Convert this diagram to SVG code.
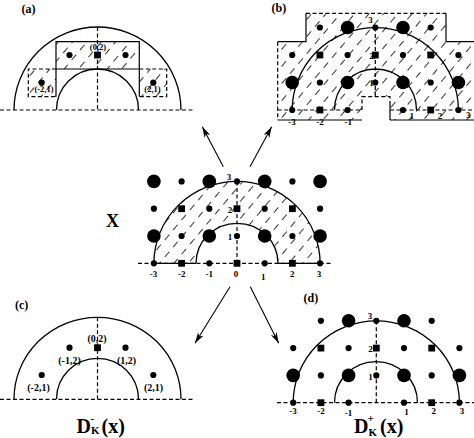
<svg xmlns="http://www.w3.org/2000/svg" width="474" height="438" viewBox="0 0 474 438">
<style>
.arc{fill:none;stroke:#000;stroke-width:1.3}
.sol{fill:none;stroke:#000;stroke-width:1.2}
.dash{fill:none;stroke:#000;stroke-width:1.2;stroke-dasharray:4 2.5}
.conn{fill:none;stroke:#000;stroke-width:1.1}
.t{font-family:"Liberation Serif",serif;font-weight:bold;fill:#000}
.s9{font-size:9px}
.s10{font-size:10px}
.s8{font-size:8.5px}
.pl{font-size:12px}
.big{font-size:20px}
.sub{font-size:11px}
</style>
<defs>
<pattern id="hatch" patternUnits="userSpaceOnUse" width="13" height="11" patternTransform="rotate(-50)">
<line x1="0" y1="5.5" x2="7" y2="5.5" stroke="#000" stroke-width="0.8"/>
</pattern>
<circle id="bd" r="6.8" fill="#000"/>
<circle id="sd" r="3.1" fill="#000"/>
<rect id="sq" x="-3.4" y="-3.4" width="6.8" height="6.8" fill="#000"/>
<marker id="ah" markerWidth="12" markerHeight="8" refX="11" refY="4" orient="auto" markerUnits="userSpaceOnUse">
<path d="M0,0.8 L11,4 L0,7.2 L3,4 Z" fill="#000"/>
</marker>
</defs>

<g id="panel-a">
<text class="t pl" x="21.5" y="12.5">(a)</text>
<path d="M56,41.7 H139.3 V69 H56 Z M28.3,69 H56 V96.7 H28.3 Z M139.3,69 H166.7 V96.7 H139.3 Z" fill="url(#hatch)"/>
<path class="arc" d="M14,110 A83.5,83 0 0 1 181,110"/>
<path class="arc" d="M56.5,110 A41,41 0 0 1 138.5,110"/>
<line class="dash" x1="0" y1="110" x2="195" y2="110"/>
<line class="dash" x1="97.5" y1="27" x2="97.5" y2="110"/>
<path class="sol" d="M56,69 V41.7 H139.3 V69 M56,69 H139.3 M56,69 V96.7 M139.3,69 V96.7"/>
<path class="dash" d="M56,69 H28.3 V96.7 H56 M139.3,69 H166.7 V96.7 H139.3"/>
<use href="#sd" x="69.5" y="55"/>
<use href="#sq" x="97.5" y="55"/>
<use href="#sd" x="125.5" y="55"/>
<use href="#sd" x="41.7" y="82.7"/>
<use href="#sd" x="153.3" y="82.7"/>
<text class="t s8" x="98" y="50" text-anchor="middle">(0,2)</text>
<text class="t s8" x="44" y="92" text-anchor="middle">(-2,1)</text>
<text class="t s8" x="152.5" y="92" text-anchor="middle">(2,1)</text>
</g>

<g id="panel-b">
<text class="t pl" x="271.5" y="11.5">(b)</text>
<path d="M277.7,41.7 H306 V13.3 H446 V41.7 H474 V120 H390 V96.7 H362 V120 H277.7 Z" fill="url(#hatch)"/>
<line class="dash" x1="306" y1="13.3" x2="446" y2="13.3"/>
<path class="sol" d="M306,13.3 V41.7 H277.7 M446,13.3 V41.7 H474"/>
<line class="dash" x1="277.7" y1="41.7" x2="277.7" y2="120"/>
<path class="sol" d="M277.7,120 H362 M390,120 H474 M390,104 V120"/>
<path class="dash" d="M362,110 V96.7 H390 V104"/>
<line class="dash" x1="277.7" y1="110" x2="362" y2="110"/>
<line class="dash" x1="390" y1="110" x2="474" y2="110"/>
<line class="dash" x1="375.3" y1="27.5" x2="375.3" y2="96.7"/>
<path class="arc" d="M292.2,110 A83.1,82.5 0 0 1 458.4,110"/>
<path class="arc" d="M334.5,110 A41,41 0 0 1 416.5,110"/>
<use href="#sd" x="319.9" y="27.5"/><use href="#bd" x="347.6" y="27.5"/><use href="#sd" x="375.3" y="27.5"/><use href="#bd" x="403" y="27.5"/><use href="#sd" x="430.7" y="27.5"/>
<use href="#sd" x="292.2" y="55"/><use href="#sq" x="319.9" y="55"/><use href="#sd" x="347.6" y="55"/><use href="#sq" x="375.3" y="55"/><use href="#sd" x="403" y="55"/><use href="#sq" x="430.7" y="55"/><use href="#sd" x="458.4" y="55"/>
<use href="#bd" x="292.2" y="82.5"/><use href="#sd" x="319.9" y="82.5"/><use href="#bd" x="347.6" y="82.5"/><use href="#sd" x="375.3" y="82.5"/><use href="#bd" x="403" y="82.5"/><use href="#sd" x="430.7" y="82.5"/><use href="#bd" x="458.4" y="82.5"/>
<use href="#sd" x="292.2" y="110"/><use href="#sq" x="319.9" y="110"/><use href="#sd" x="347.6" y="110"/><use href="#sd" x="403" y="110"/><use href="#sq" x="430.7" y="110"/><use href="#sd" x="458.4" y="110"/>
<text class="t s9" x="370.5" y="23" text-anchor="middle">3</text>
<text class="t s9" x="371.5" y="58.5" text-anchor="middle">2</text>
<text class="t s9" x="371.5" y="86" text-anchor="middle">1</text>
<text class="t s9" x="292" y="124.5" text-anchor="middle">-3</text>
<text class="t s9" x="320" y="124.5" text-anchor="middle">-2</text>
<text class="t s9" x="348.3" y="124.5" text-anchor="middle">-1</text>
<text class="t s9" x="411.7" y="119" text-anchor="middle">1</text>
<text class="t s9" x="440" y="119" text-anchor="middle">2</text>
<text class="t s9" x="468.3" y="118" text-anchor="middle">3</text>
</g>

<g id="panel-x">
<text class="t" font-size="18" x="106" y="227">X</text>
<path d="M153.9,263.3 A83.1,81.9 0 0 1 320.1,263.3 L278,263.3 A41,40 0 0 0 196,263.3 Z" fill="url(#hatch)"/>
<line class="dash" x1="138" y1="263.3" x2="333" y2="263.3"/>
<path class="sol" d="M153.9,263.3 H196 M278,263.3 H320.1"/>
<line class="dash" x1="237" y1="181.4" x2="237" y2="263.3"/>
<path class="arc" d="M153.9,263.3 A83.1,81.9 0 0 1 320.1,263.3"/>
<path class="arc" d="M196,263.3 A41,40 0 0 1 278,263.3"/>
<use href="#bd" x="153.9" y="181.4"/><use href="#sd" x="181.6" y="181.4"/><use href="#bd" x="209.3" y="181.4"/><use href="#sd" x="237" y="181.4"/><use href="#bd" x="264.7" y="181.4"/><use href="#sd" x="292.4" y="181.4"/><use href="#bd" x="320.1" y="181.4"/>
<use href="#sd" x="153.9" y="208.7"/><use href="#sq" x="181.6" y="208.7"/><use href="#sd" x="209.3" y="208.7"/><use href="#sq" x="237" y="208.7"/><use href="#sd" x="264.7" y="208.7"/><use href="#sq" x="292.4" y="208.7"/><use href="#sd" x="320.1" y="208.7"/>
<use href="#bd" x="153.9" y="236"/><use href="#sd" x="181.6" y="236"/><use href="#bd" x="209.3" y="236"/><use href="#sd" x="237" y="236"/><use href="#bd" x="264.7" y="236"/><use href="#sd" x="292.4" y="236"/><use href="#bd" x="320.1" y="236"/>
<use href="#sd" x="153.9" y="263.3"/><use href="#sq" x="181.6" y="263.3"/><use href="#sd" x="209.3" y="263.3"/><use href="#sq" x="237" y="263.3"/><use href="#sd" x="264.7" y="263.3"/><use href="#sq" x="292.4" y="263.3"/><use href="#sd" x="320.1" y="263.3"/>
<text class="t s9" x="229" y="180" text-anchor="middle">3</text>
<text class="t s9" x="230" y="213" text-anchor="middle">2</text>
<text class="t s9" x="230" y="240" text-anchor="middle">1</text>
<text class="t s9" x="153.5" y="277" text-anchor="middle">-3</text>
<text class="t s9" x="181.7" y="277" text-anchor="middle">-2</text>
<text class="t s9" x="209.3" y="277" text-anchor="middle">-1</text>
<text class="t s9" x="236" y="277" text-anchor="middle">0</text>
<text class="t s9" x="263.3" y="280" text-anchor="middle">1</text>
<text class="t s9" x="292.3" y="277" text-anchor="middle">2</text>
<text class="t s9" x="319" y="277" text-anchor="middle">3</text>
</g>

<g id="panel-c">
<text class="t pl" x="15" y="309">(c)</text>
<path class="arc" d="M14,399.3 A83.5,82 0 0 1 181,399.3"/>
<path class="arc" d="M56.5,399.3 A41,41 0 0 1 138.5,399.3"/>
<line class="dash" x1="0" y1="399.3" x2="195" y2="399.3"/>
<line class="dash" x1="97.5" y1="317.3" x2="97.5" y2="399.3"/>
<use href="#sq" x="97.5" y="347.7"/>
<use href="#sd" x="69.5" y="347.7"/>
<use href="#sd" x="125.5" y="347.7"/>
<use href="#sd" x="41.7" y="375"/>
<use href="#sd" x="153.3" y="375"/>
<text class="t s10" x="97" y="341.5" text-anchor="middle">(0,2)</text>
<text class="t s10" x="69.5" y="363.5" text-anchor="middle">(-1,2)</text>
<text class="t s10" x="126.5" y="363.5" text-anchor="middle">(1,2)</text>
<text class="t s10" x="38.5" y="391" text-anchor="middle">(-2,1)</text>
<text class="t s10" x="153.5" y="391" text-anchor="middle">(2,1)</text>
<text class="t" x="76.5" y="433"><tspan class="big">D</tspan><tspan class="sub" dy="1">K</tspan><tspan class="big" dx="2" dy="-1">(x)</tspan></text>
<text class="t sub" x="90.5" y="422">-</text>
</g>

<g id="panel-d">
<text class="t pl" x="303.5" y="302">(d)</text>
<line class="dash" x1="277" y1="402.7" x2="474" y2="402.7"/>
<line class="dash" x1="376.3" y1="320.8" x2="376.3" y2="402.7"/>
<path class="arc" d="M293.2,402.7 A83.1,81.9 0 0 1 459.4,402.7"/>
<path class="arc" d="M334.5,402.7 A41.5,41 0 0 1 417.5,402.7"/>
<use href="#sd" x="320.9" y="320.8"/><use href="#bd" x="348.6" y="320.8"/><use href="#sd" x="376.3" y="320.8"/><use href="#bd" x="404" y="320.8"/><use href="#sd" x="431.7" y="320.8"/>
<use href="#sd" x="293.2" y="348.1"/><use href="#sq" x="320.9" y="348.1"/><use href="#sd" x="348.6" y="348.1"/><use href="#sq" x="376.3" y="348.1"/><use href="#sd" x="404" y="348.1"/><use href="#sq" x="431.7" y="348.1"/><use href="#sd" x="459.4" y="348.1"/>
<use href="#bd" x="293.2" y="375.4"/><use href="#sd" x="320.9" y="375.4"/><use href="#bd" x="348.6" y="375.4"/><use href="#sd" x="376.3" y="375.4"/><use href="#bd" x="404" y="375.4"/><use href="#sd" x="431.7" y="375.4"/><use href="#bd" x="459.4" y="375.4"/>
<use href="#sd" x="293.2" y="402.7"/><use href="#sq" x="320.9" y="402.7"/><use href="#sd" x="348.6" y="402.7"/><use href="#sd" x="404" y="402.7"/><use href="#sq" x="431.7" y="402.7"/><use href="#sd" x="459.4" y="402.7"/>
<text class="t s9" x="370" y="319" text-anchor="middle">3</text>
<text class="t s9" x="370.5" y="352" text-anchor="middle">2</text>
<text class="t s9" x="370.5" y="379.5" text-anchor="middle">1</text>
<text class="t s9" x="293" y="414" text-anchor="middle">-3</text>
<text class="t s9" x="321" y="414" text-anchor="middle">-2</text>
<text class="t s9" x="348.5" y="416" text-anchor="middle">-1</text>
<text class="t s9" x="406.5" y="415" text-anchor="middle">1</text>
<text class="t s9" x="433.7" y="414" text-anchor="middle">2</text>
<text class="t s9" x="462" y="414" text-anchor="middle">3</text>
<text class="t" x="354" y="433"><tspan class="big">D</tspan><tspan class="sub" dy="2.5">K</tspan><tspan class="big" dx="3" dy="-2.5">(x)</tspan></text>
<text class="t sub" x="367.5" y="422">+</text>
</g>

<g id="connectors">
<line class="conn" x1="223.3" y1="166.7" x2="202.3" y2="126.7" marker-end="url(#ah)"/>
<line class="conn" x1="250" y1="166.7" x2="271.7" y2="126.7" marker-end="url(#ah)"/>
<line class="conn" x1="230" y1="286.7" x2="195" y2="343.3" marker-end="url(#ah)"/>
<line class="conn" x1="250.3" y1="286.7" x2="278.7" y2="343.3" marker-end="url(#ah)"/>
</g>
</svg>
